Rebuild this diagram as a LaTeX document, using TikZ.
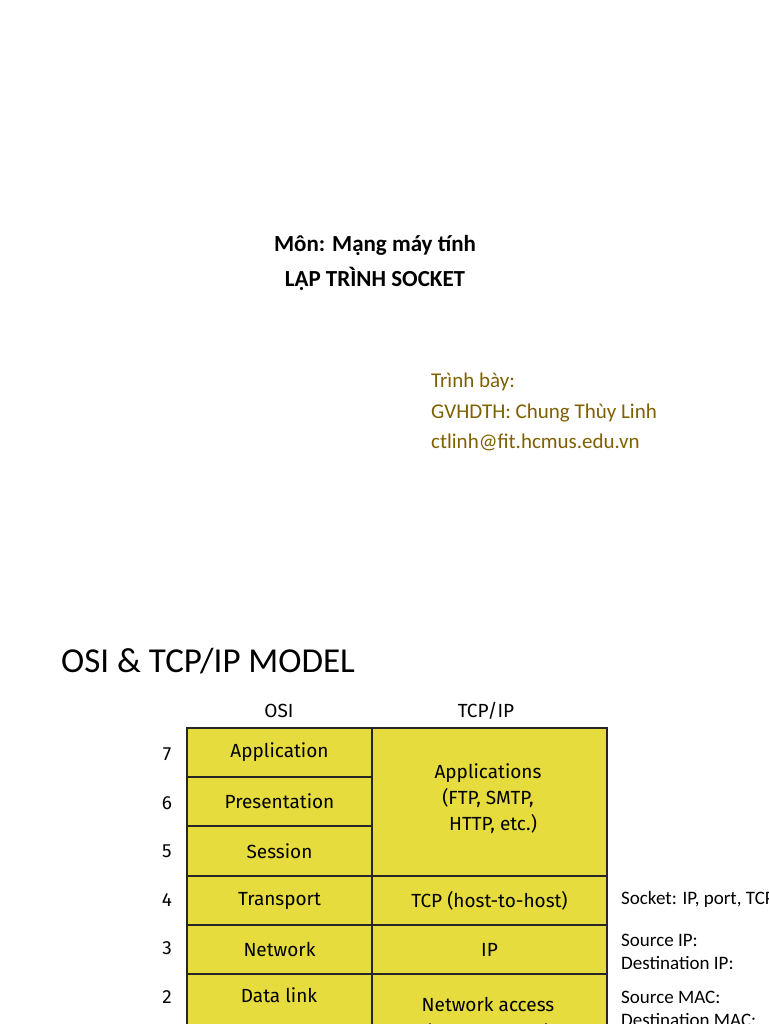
\documentclass[tikz,border=0pt]{standalone}
\usepackage{fontspec}
\setmainfont{Carlito}
\newfontfamily\diagfont{Fira Sans}
\definecolor{ylw}{HTML}{E6DC3E}
\definecolor{olive}{HTML}{7F6000}
\begin{document}
\begin{tikzpicture}[x=1pt,y=-1pt,
  cell/.style={draw=black!85,line width=1.6pt,fill=ylw},
  lbl/.style={font=\diagfont\fontsize{19}{22}\selectfont,align=center,inner sep=0},
  side/.style={font=\fontsize{19}{23}\selectfont,anchor=north west,align=left,inner sep=0}]
\useasboundingbox (0,0) rectangle (768,1024);
\clip (0,0) rectangle (768,1024);
\node[font=\bfseries\fontsize{23}{28}\selectfont] (t1) at (375,245) {Môn: Mạng máy tính};
\node[font=\bfseries\fontsize{23}{28}\selectfont] (t2) at (375,279) {LẬP TRÌNH SOCKET};
\node[anchor=west,text=olive,font=\fontsize{21}{30.5}\selectfont,align=left,inner sep=0] (auth) at (431,412) {Trình bày:\\GVHDTH: Chung Thùy Linh\\ctlinh@fit.hcmus.edu.vn};
\node[anchor=west,font=\fontsize{35}{40}\selectfont,inner sep=0] (h) at (61,661) {OSI \& TCP/IP MODEL};
\node[lbl] (osi) at (279,711) {OSI};
\node[lbl] (tcp) at (486,711) {TCP/IP};
% OSI column
\draw[cell] (187,728) rectangle node[lbl] (a7) {Application} (372,777);
\draw[cell] (187,777) rectangle node[lbl] (a6) {Presentation} (372,826);
\draw[cell] (187,826) rectangle node[lbl] (a5) {Session} (372,876);
\draw[cell] (187,876) rectangle node[lbl] (a4) {Transport} (372,925);
\draw[cell] (187,925) rectangle node[lbl] (a3) {Network} (372,974);
\draw[cell] (187,974) rectangle (372,1040);
\node[lbl] (a2) at (279,995) {Data link};
% TCP column
\draw[cell] (372,728) rectangle (607,876);
\node[lbl,font=\diagfont\fontsize{19}{26}\selectfont] (apps) at (488,799) {Applications\\(FTP, SMTP,\\\ \ HTTP, etc.)};
\draw[cell] (372,876) rectangle node[lbl] (b4) {TCP (host-to-host)} (607,925);
\draw[cell] (372,925) rectangle node[lbl] (b3) {IP} (607,974);
\draw[cell] (372,974) rectangle (607,1060);
\node[lbl,font=\diagfont\fontsize{19}{28}\selectfont] (b2) at (488,1020) {Network access\\(e.g., Ethernet)};
% numbers
\foreach \n/\y in {7/754,6/803,5/851,4/900,3/948,2/997}
  \node[lbl] (n\n) at (167,\y) {\n};
% side notes
\node[side] (s4) at (621,891) {Socket: IP, port, TCP};
\node[side] (s3) at (621,934) {Source IP:\\Destination IP:};
\node[side] (s2) at (621,991) {Source MAC:\\Destination MAC:};
\end{tikzpicture}
\end{document}
